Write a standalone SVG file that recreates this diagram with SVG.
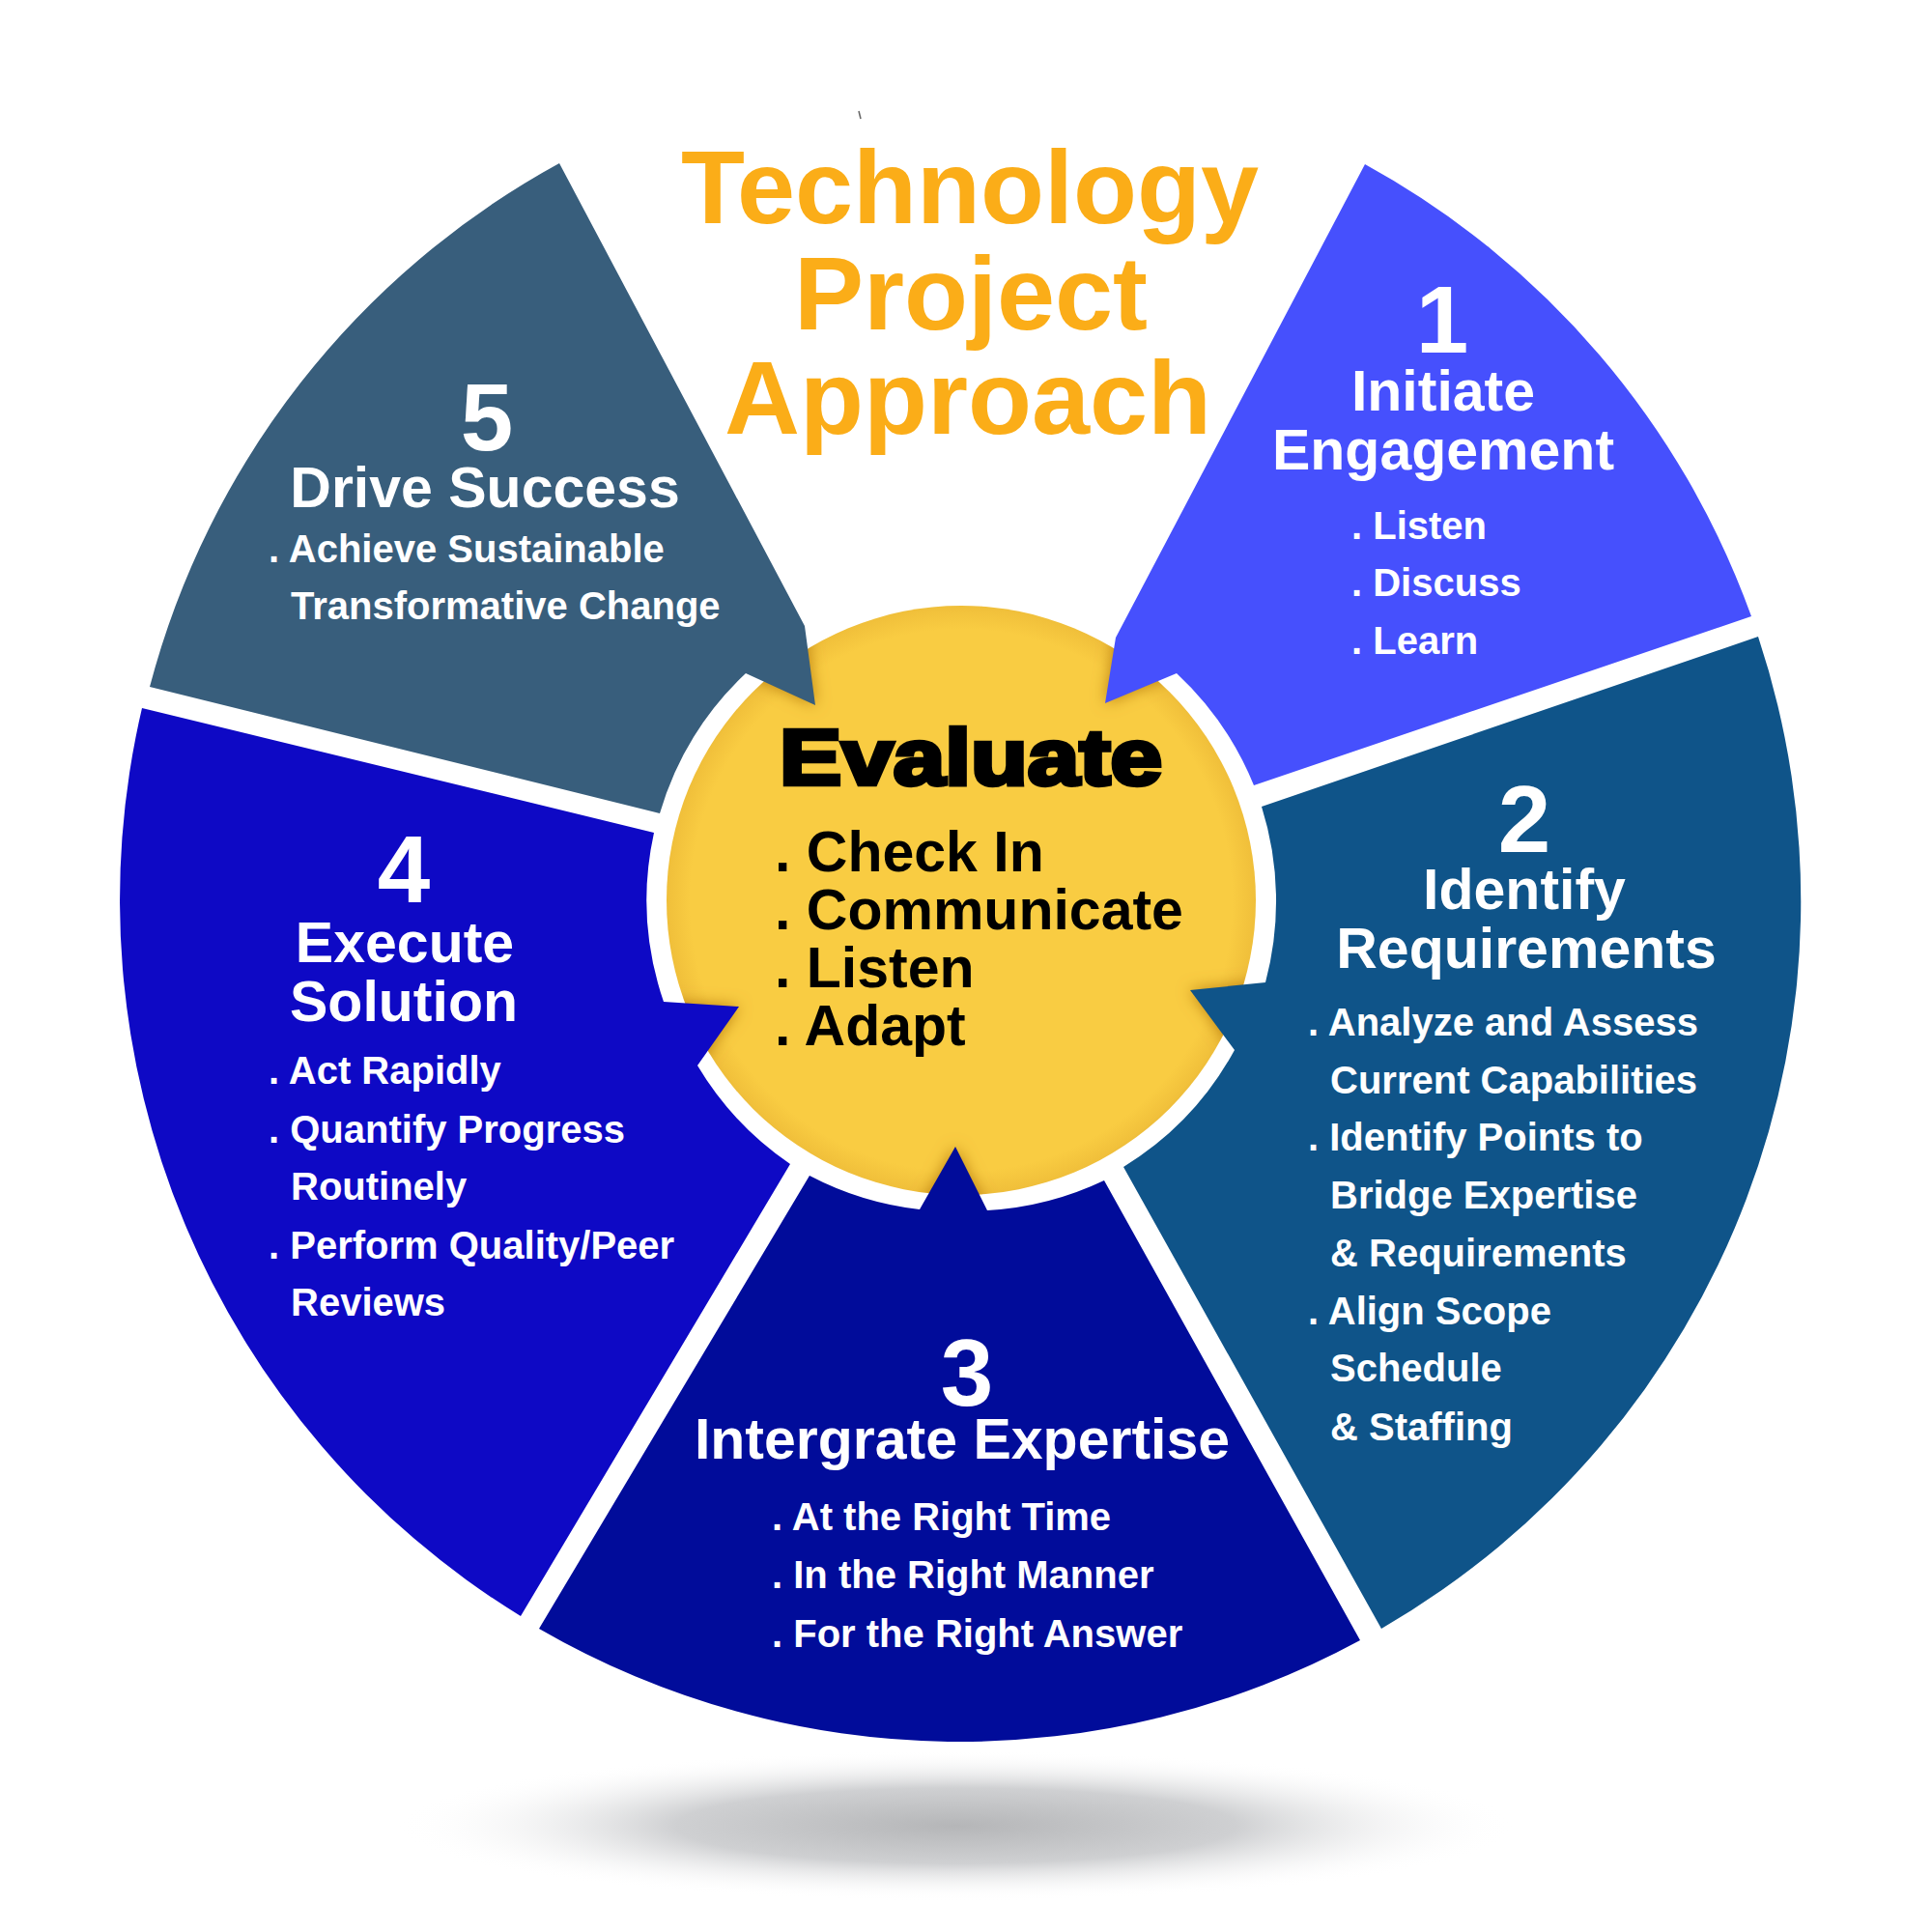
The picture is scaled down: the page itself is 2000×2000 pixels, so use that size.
<svg xmlns="http://www.w3.org/2000/svg" width="2000" height="2000" viewBox="0 0 2000 2000">
<defs>
<style>
.t{font-family:"Liberation Sans",Arial,sans-serif;font-weight:bold;}
.w{fill:#ffffff}
.num{font-size:98px;text-anchor:middle}
.hd{font-size:59px;text-anchor:middle}
.bl{font-size:40px}
.ctr{font-size:59px;fill:#000000}
.title{font-size:108px;fill:#FBAD18;text-anchor:middle}
.s1{fill:#4650FD}
.s2{fill:#0F5489}
.s3{fill:#010C9A}
.s4{fill:#0E09C5}
.s5{fill:#385E7C}
</style>
<radialGradient id="floor" cx="0.5" cy="0.5" r="0.5">
<stop offset="0" stop-color="#B5B6B8"/>
<stop offset="0.5" stop-color="#CFD0D2"/>
<stop offset="1" stop-color="#FFFFFF" stop-opacity="0"/>
</radialGradient>
<radialGradient id="yg" cx="0.5" cy="0.5" r="0.5">
<stop offset="0.92" stop-color="#F9CC42"/>
<stop offset="1" stop-color="#F0BF3A"/>
</radialGradient>
<clipPath id="yc"><circle cx="995" cy="932" r="305"/></clipPath>
<filter id="sh" x="-10%" y="-10%" width="120%" height="120%">
<feGaussianBlur in="SourceAlpha" stdDeviation="8" result="b"/>
<feFlood flood-color="#A86A10" flood-opacity="0.75"/>
<feComposite in2="b" operator="in"/>
</filter>
</defs>
<rect x="0" y="0" width="2000" height="2000" fill="#ffffff"/>
<ellipse id="floor-shadow" cx="990" cy="1890" rx="580" ry="78" fill="url(#floor)"/>
<line x1="889" y1="115" x2="891" y2="123" stroke="#666" stroke-width="1.5"/>

<g id="title">
<text class="t title" x="1004" y="231">Technology</text>
<text class="t title" x="1005" y="341">Project</text>
<text class="t title" x="1002" y="449">Approach</text>
</g>

<g id="evaluate">
<circle cx="995" cy="932" r="305" fill="url(#yg)"/>
</g>

<g id="arrow-shadows" clip-path="url(#yc)">
<use href="#p1" filter="url(#sh)"/>
<use href="#p2" filter="url(#sh)"/>
<use href="#p3" filter="url(#sh)"/>
<use href="#p4" filter="url(#sh)"/>
<use href="#p5" filter="url(#sh)"/>
</g>

<g id="evaluate-text">
<text class="t" x="807" y="812" font-size="81" stroke="#000" stroke-width="4.5" textLength="396" lengthAdjust="spacingAndGlyphs">Evaluate</text>
<text class="t ctr" x="802" y="902">. Check In</text>
<text class="t ctr" x="802" y="962">. Communicate</text>
<text class="t ctr" x="802" y="1022">. Listen</text>
<text class="t ctr" x="802" y="1082">. Adapt</text>
</g>

<g id="step1">
<path id="p1" class="s1" d="M1413,170 A870,870 0 0 1 1813,638 L1298,813 A326,326 0 0 0 1218,697 L1144,728 L1155,660 Z"/>
<text class="t w num" x="1493" y="365">1</text>
<text class="t w hd" x="1494" y="425">Initiate</text>
<text class="t w hd" x="1494" y="486">Engagement</text>
<text class="t w bl" x="1399" y="558">. Listen</text>
<text class="t w bl" x="1399" y="617">. Discuss</text>
<text class="t w bl" x="1399" y="677">. Learn</text>
</g>

<g id="step2">
<path id="p2" class="s2" d="M1820,659 A870,870 0 0 1 1430,1686 L1163,1208 A322,322 0 0 0 1278,1087 L1232,1025 L1310,1017 A326,326 0 0 0 1306,835 Z"/>
<text class="t w num" x="1578" y="882">2</text>
<text class="t w hd" x="1578" y="941">Identify</text>
<text class="t w hd" x="1580" y="1002">Requirements</text>
<text class="t w bl" x="1354" y="1072">. Analyze and Assess</text>
<text class="t w bl" x="1377" y="1132">Current Capabilities</text>
<text class="t w bl" x="1354" y="1191">. Identify Points to</text>
<text class="t w bl" x="1377" y="1251">Bridge Expertise</text>
<text class="t w bl" x="1377" y="1311">&amp; Requirements</text>
<text class="t w bl" x="1354" y="1371">. Align Scope</text>
<text class="t w bl" x="1377" y="1430">Schedule</text>
<text class="t w bl" x="1377" y="1491">&amp; Staffing</text>
</g>

<g id="step3">
<path id="p3" class="s3" d="M1408,1698 A870,870 0 0 1 558,1686 L838,1217 A324,324 0 0 0 952,1252 L989,1187 L1022,1253 A324,324 0 0 0 1143,1222 Z"/>
<text class="t w num" x="1001" y="1455">3</text>
<text class="t w hd" x="996" y="1510">Intergrate Expertise</text>
<text class="t w bl" x="799" y="1584">. At the Right Time</text>
<text class="t w bl" x="799" y="1644">. In the Right Manner</text>
<text class="t w bl" x="799" y="1705">. For the Right Answer</text>
</g>

<g id="step4">
<path id="p4" class="s4" d="M539,1673 A870,870 0 0 1 147,733 L677,862 A325,325 0 0 0 687,1037 L765,1042 L722,1103 A325,325 0 0 0 818,1205 Z"/>
<text class="t w num" x="418" y="934">4</text>
<text class="t w hd" x="419" y="996">Execute</text>
<text class="t w hd" x="418" y="1057">Solution</text>
<text class="t w bl" x="278" y="1122">. Act Rapidly</text>
<text class="t w bl" x="278" y="1183">. Quantify Progress</text>
<text class="t w bl" x="301" y="1242">Routinely</text>
<text class="t w bl" x="278" y="1303">. Perform Quality/Peer</text>
<text class="t w bl" x="301" y="1362">Reviews</text>
</g>

<g id="step5">
<path id="p5" class="s5" d="M155,711 A870,870 0 0 1 579,169 L833,648 L844,730 L772,697 A325,325 0 0 0 683,842 Z"/>
<text class="t w num" x="504" y="466">5</text>
<text class="t w hd" x="502" y="525">Drive Success</text>
<text class="t w bl" x="278" y="582">. Achieve Sustainable</text>
<text class="t w bl" x="301" y="641">Transformative Change</text>
</g>
</svg>
